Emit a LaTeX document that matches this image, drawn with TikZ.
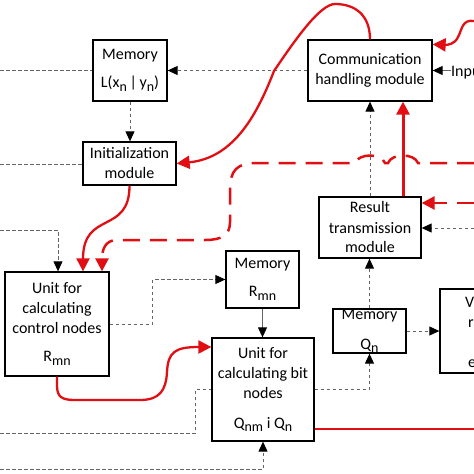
\documentclass[tikz,border=0pt]{standalone}
\usepackage{fontspec}
\setmainfont{Carlito}
\usetikzlibrary{arrows.meta,calc}
\definecolor{cred}{RGB}{225,15,20}
\definecolor{cgray}{RGB}{100,100,100}
\newcommand\boxfs{\fontsize{16}{20}\selectfont}
\newcommand\sbs[1]{\raisebox{-3.5pt}{\fontsize{14}{14}\selectfont #1}}
\begin{document}
\begin{tikzpicture}[x=1pt,y=-1pt,
  box/.style={draw=black, line width=1.3pt, inner sep=0pt, fill=white},
  txt/.style={align=center, inner sep=0pt, font=\boxfs},
  gd/.style={draw=cgray, line width=0.9pt, dash pattern=on 3.5pt off 2.5pt},
  gs/.style={draw=cgray, line width=0.9pt},
  ba/.style={-{Triangle[length=10pt,width=9pt,color=black]}},
  rs/.style={draw=cred, line width=2.3pt},
  rd/.style={draw=cred, line width=2.5pt, dash pattern=on 17pt off 10pt},
  ra/.style={-{Triangle[length=13pt,width=13pt]}},
]
\useasboundingbox (0,0) rectangle (474,474);
\clip (0,0) rectangle (474,474);

% boxes
\node[box, minimum width=74pt, minimum height=61pt] (memL) at (130,70.5) {};
\node[txt] (memLt) at (memL.center) {Memory\\[8pt]L(x\sbs{n}\,|\,y\sbs{n})};
\node[box, minimum width=93pt, minimum height=43pt] (init) at (129.5,163.5) {};
\node[txt] (initt) at (init.center) {Initialization\\module};
\node[box, minimum width=124pt, minimum height=61pt] (comm) at (370,70.5) {};
\node[txt] (commt) at (comm.center) {Communication\\handling module};
\node[box, minimum width=102pt, minimum height=61pt] (res) at (370,227.5) {};
\node[txt] (rest) at (res.center) {Result\\transmission\\module};
\node[box, minimum width=104pt, minimum height=104pt] (ctrl) at (57,324) {};
\node[txt] (ctrlt) at (ctrl.center) {Unit for\\calculating\\control nodes\\[8pt]R\sbs{mn}};
\node[box, minimum width=73pt, minimum height=57pt] (memR) at (262.5,279.5) {};
\node[txt] (memRt) at (memR.center) {Memory\\[8pt]R\sbs{mn}};
\node[box, minimum width=102pt, minimum height=103pt] (bit) at (263,389.5) {};
\node[txt] (bitt) at (bit.center) {Unit for\\calculating bit\\nodes\\[10pt]Q\sbs{nm} i Q\sbs{n}};
\node[box, minimum width=73pt, minimum height=44pt] (memQ) at (369.5,331) {};
\node[txt] (memQt) at (memQ.center) {Memory\\[10pt]Q\sbs{n}};
\node[box, minimum width=120pt, minimum height=84pt] (vbox) at (500,331) {};
\node[txt, anchor=base west] (v1) at (465,307) {V};
\node[txt, anchor=base west] (v2) at (468,327) {r};
\node[txt, anchor=base west] (v3) at (468,367) {e};
\node[txt, anchor=base west] (inp) at (451,76) {Input};

% free ends
\coordinate (L1) at (0,70.5);
\coordinate (L2) at (0,164);
\coordinate (L3) at (0,230);
\coordinate (L4) at (0,433);
\coordinate (L5) at (0,469);
\coordinate (R1) at (474,228);
\coordinate (R2) at (474,203);
\coordinate (R3) at (474,163);
\coordinate (R4) at (474,21);
\coordinate (R5) at (474,429);

% gray connectors
\draw[gd] (L1) -- (memL.west);
\draw[gd,ba] (comm.west) -- (memL.east);
\draw[gd,ba] (memL.south) -- (memL.south |- init.north);
\draw[gd] (L2) -- (L2 -| init.west);
\draw[gd,ba] (L3) -| ($(ctrl.north)+(1,0)$);
\draw[gd,ba] (ctrl.east) -- ++(43,0) |- (memR.west);
\draw[gs,ba] (memR.south) -- (memR.south |- bit.north);
\draw[gd] (L4) -| ($(bit.west)+(-16,0)$) -- (bit.west);
\draw[gd,ba] (bit.east) -| (memQ.south);
\draw[gd,ba] (L5) -| (bit.south);
\draw[gd,ba] (memQ.north) -- (memQ.north |- res.south);
\draw[gd,ba] (memQ.east) -- (memQ.east -| vbox.west);
\draw[gd,ba] (res.north) -- (res.north |- comm.south);
\draw[gd,ba] (R1) -- (R1 -| res.east);
\draw[gs,ba] (inp.west |- comm.east) -- (comm.east);

% red connectors
\draw[rs,ra] (comm.north) .. controls (370,15) and (355,4) .. (335,4)
  .. controls (320,4) and (295,40) .. (274,71)
  .. controls (258,112) and (235,158) .. (init.east);
\draw[rs,ra] (init.south) .. controls (129.5,235) and (83,210) .. ($(ctrl.north)+(26,0)$);
\draw[rd,ra] (R3) -- (418,163) .. controls (414,153) and (392,153) .. (388,163)
  -- (385,163) .. controls (381,153) and (359,153) .. (355,163)
  -- (257,163) .. controls (237,163) and (230,170) .. (230,190)
  -- (230,222) .. controls (230,235) and (222,240) .. (205,240)
  -- (117,240) .. controls (105,240) and (102,250) .. ($(ctrl.north)+(45,0)$);
\draw[rs,ra] (R4) .. controls (462,19) and (462,30) .. (458,37)
  .. controls (455,44) and (448,45) .. ($(comm.north east)+(0,5)$);
\draw[rs,line width=3pt,ra] ($(res.north)+(33,0)$) -- ($(comm.south)+(33,0)$);
\draw[rd,ra] (R2) -- (R2 -| res.east);
\draw[rs,ra] (ctrl.south) -- ++(0,9) .. controls (57,397) and (62,400) .. (75,400)
  -- (140,400) .. controls (160,400) and (166,390) .. (167,372)
  .. controls (168,352) and (175,347) .. ($(bit.west)+(0,-42.5)$);
\draw[rs] ($(bit.east)+(0,39.5)$) -- (R5);
\end{tikzpicture}
\end{document}
